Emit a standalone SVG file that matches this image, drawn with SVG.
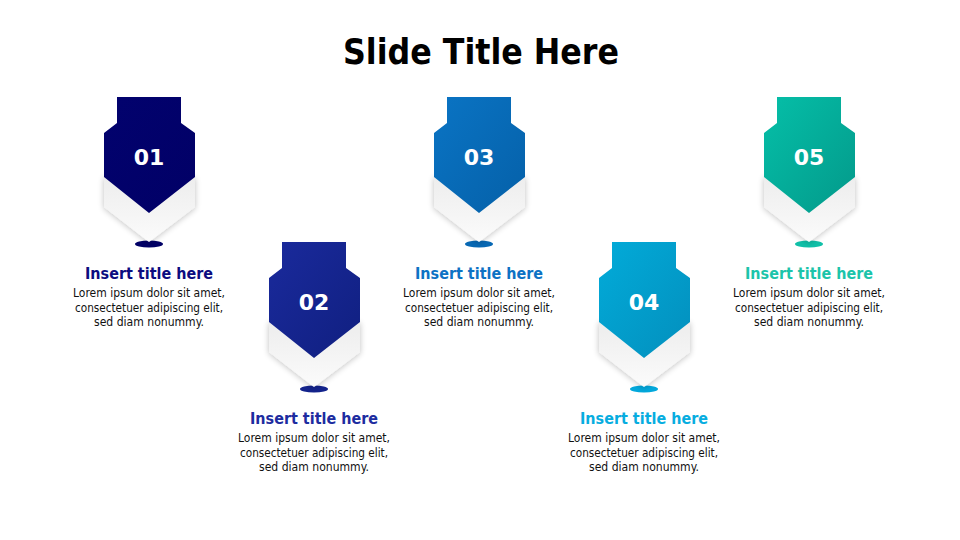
<svg xmlns="http://www.w3.org/2000/svg" width="960" height="540" viewBox="0 0 960 540">
<defs>
<linearGradient id="g1" x1="0" y1="0" x2="1" y2="1"><stop offset="0" stop-color="#02026e"/><stop offset="1" stop-color="#010066"/></linearGradient>
<linearGradient id="g2" x1="0" y1="0" x2="1" y2="1"><stop offset="0" stop-color="#1a2a9c"/><stop offset="1" stop-color="#101f80"/></linearGradient>
<linearGradient id="g3" x1="0" y1="0" x2="1" y2="1"><stop offset="0" stop-color="#0a74c4"/><stop offset="1" stop-color="#0560a8"/></linearGradient>
<linearGradient id="g4" x1="0" y1="0" x2="1" y2="1"><stop offset="0" stop-color="#02abd9"/><stop offset="1" stop-color="#038fbd"/></linearGradient>
<linearGradient id="g5" x1="0" y1="0" x2="1" y2="1"><stop offset="0" stop-color="#05bfa8"/><stop offset="1" stop-color="#03998a"/></linearGradient>
<linearGradient id="gw" x1="0" y1="0" x2="0" y2="1"><stop offset="0" stop-color="#ededed"/><stop offset="1" stop-color="#fbfbfb"/></linearGradient>
<filter id="sh" x="-30%" y="-30%" width="160%" height="160%"><feGaussianBlur in="SourceAlpha" stdDeviation="3"/><feOffset dx="0" dy="1"/><feComponentTransfer><feFuncA type="linear" slope="0.25"/></feComponentTransfer><feMerge><feMergeNode/><feMergeNode in="SourceGraphic"/></feMerge></filter>
<g id="shape">
<path d="M-45,80 L46,80 L46,110 L0,145 L-45,110 Z" fill="url(#gw)" filter="url(#sh)"/>
</g>
<path id="tab" d="M-32,0 L32,0 L32,26 L46,36 L46,80 L0,116 L-45,80 L-45,36 L-32,26 Z"/>
</defs>
<style>
.num{font-family:"DejaVu Sans",Verdana,sans-serif;font-weight:bold;font-size:22px;fill:#ffffff;text-anchor:middle}
.ttl{font-family:"DejaVu Sans",Verdana,sans-serif;font-weight:bold;font-size:16px;text-anchor:middle}
.body{font-family:"DejaVu Sans",Verdana,sans-serif;font-size:12px;fill:#111111;text-anchor:middle}
</style>
<rect width="960" height="540" fill="#ffffff"/>
<text x="481" y="64" font-family="DejaVu Sans,Verdana,sans-serif" font-weight="bold" font-size="36" text-anchor="middle" textLength="276" lengthAdjust="spacingAndGlyphs" fill="#000000">Slide Title Here</text>

<g id="node1" transform="translate(149,97)">
<ellipse cx="0" cy="147" rx="14" ry="3.6" fill="#010066"/>
<use href="#shape"/>
<use href="#tab" fill="url(#g1)"/>
<text class="num" y="68">01</text>
<text class="ttl" y="182" fill="#0c0c80" textLength="128" lengthAdjust="spacingAndGlyphs">Insert title here</text>
<text class="body" y="200" textLength="152" lengthAdjust="spacingAndGlyphs">Lorem ipsum dolor sit amet,</text>
<text class="body" y="215" textLength="148" lengthAdjust="spacingAndGlyphs">consectetuer adipiscing elit,</text>
<text class="body" y="229" textLength="110" lengthAdjust="spacingAndGlyphs">sed diam nonummy.</text>
</g>

<g id="node2" transform="translate(314,242)">
<ellipse cx="0" cy="147" rx="14" ry="3.6" fill="#13238c"/>
<use href="#shape"/>
<use href="#tab" fill="url(#g2)"/>
<text class="num" y="68">02</text>
<text class="ttl" y="182" fill="#1d2ca0" textLength="128" lengthAdjust="spacingAndGlyphs">Insert title here</text>
<text class="body" y="200" textLength="152" lengthAdjust="spacingAndGlyphs">Lorem ipsum dolor sit amet,</text>
<text class="body" y="215" textLength="148" lengthAdjust="spacingAndGlyphs">consectetuer adipiscing elit,</text>
<text class="body" y="229" textLength="110" lengthAdjust="spacingAndGlyphs">sed diam nonummy.</text>
</g>

<g id="node3" transform="translate(479,97)">
<ellipse cx="0" cy="147" rx="14" ry="3.6" fill="#0768b4"/>
<use href="#shape"/>
<use href="#tab" fill="url(#g3)"/>
<text class="num" y="68">03</text>
<text class="ttl" y="182" fill="#0d72c4" textLength="128" lengthAdjust="spacingAndGlyphs">Insert title here</text>
<text class="body" y="200" textLength="152" lengthAdjust="spacingAndGlyphs">Lorem ipsum dolor sit amet,</text>
<text class="body" y="215" textLength="148" lengthAdjust="spacingAndGlyphs">consectetuer adipiscing elit,</text>
<text class="body" y="229" textLength="110" lengthAdjust="spacingAndGlyphs">sed diam nonummy.</text>
</g>

<g id="node4" transform="translate(644,242)">
<ellipse cx="0" cy="147" rx="14" ry="3.6" fill="#02a8dc"/>
<use href="#shape"/>
<use href="#tab" fill="url(#g4)"/>
<text class="num" y="68">04</text>
<text class="ttl" y="182" fill="#07ade0" textLength="128" lengthAdjust="spacingAndGlyphs">Insert title here</text>
<text class="body" y="200" textLength="152" lengthAdjust="spacingAndGlyphs">Lorem ipsum dolor sit amet,</text>
<text class="body" y="215" textLength="148" lengthAdjust="spacingAndGlyphs">consectetuer adipiscing elit,</text>
<text class="body" y="229" textLength="110" lengthAdjust="spacingAndGlyphs">sed diam nonummy.</text>
</g>

<g id="node5" transform="translate(809,97)">
<ellipse cx="0" cy="147" rx="14" ry="3.6" fill="#10c0a8"/>
<use href="#shape"/>
<use href="#tab" fill="url(#g5)"/>
<text class="num" y="68">05</text>
<text class="ttl" y="182" fill="#1cc4aa" textLength="128" lengthAdjust="spacingAndGlyphs">Insert title here</text>
<text class="body" y="200" textLength="152" lengthAdjust="spacingAndGlyphs">Lorem ipsum dolor sit amet,</text>
<text class="body" y="215" textLength="148" lengthAdjust="spacingAndGlyphs">consectetuer adipiscing elit,</text>
<text class="body" y="229" textLength="110" lengthAdjust="spacingAndGlyphs">sed diam nonummy.</text>
</g>
<g id="connectors"/>
</svg>
